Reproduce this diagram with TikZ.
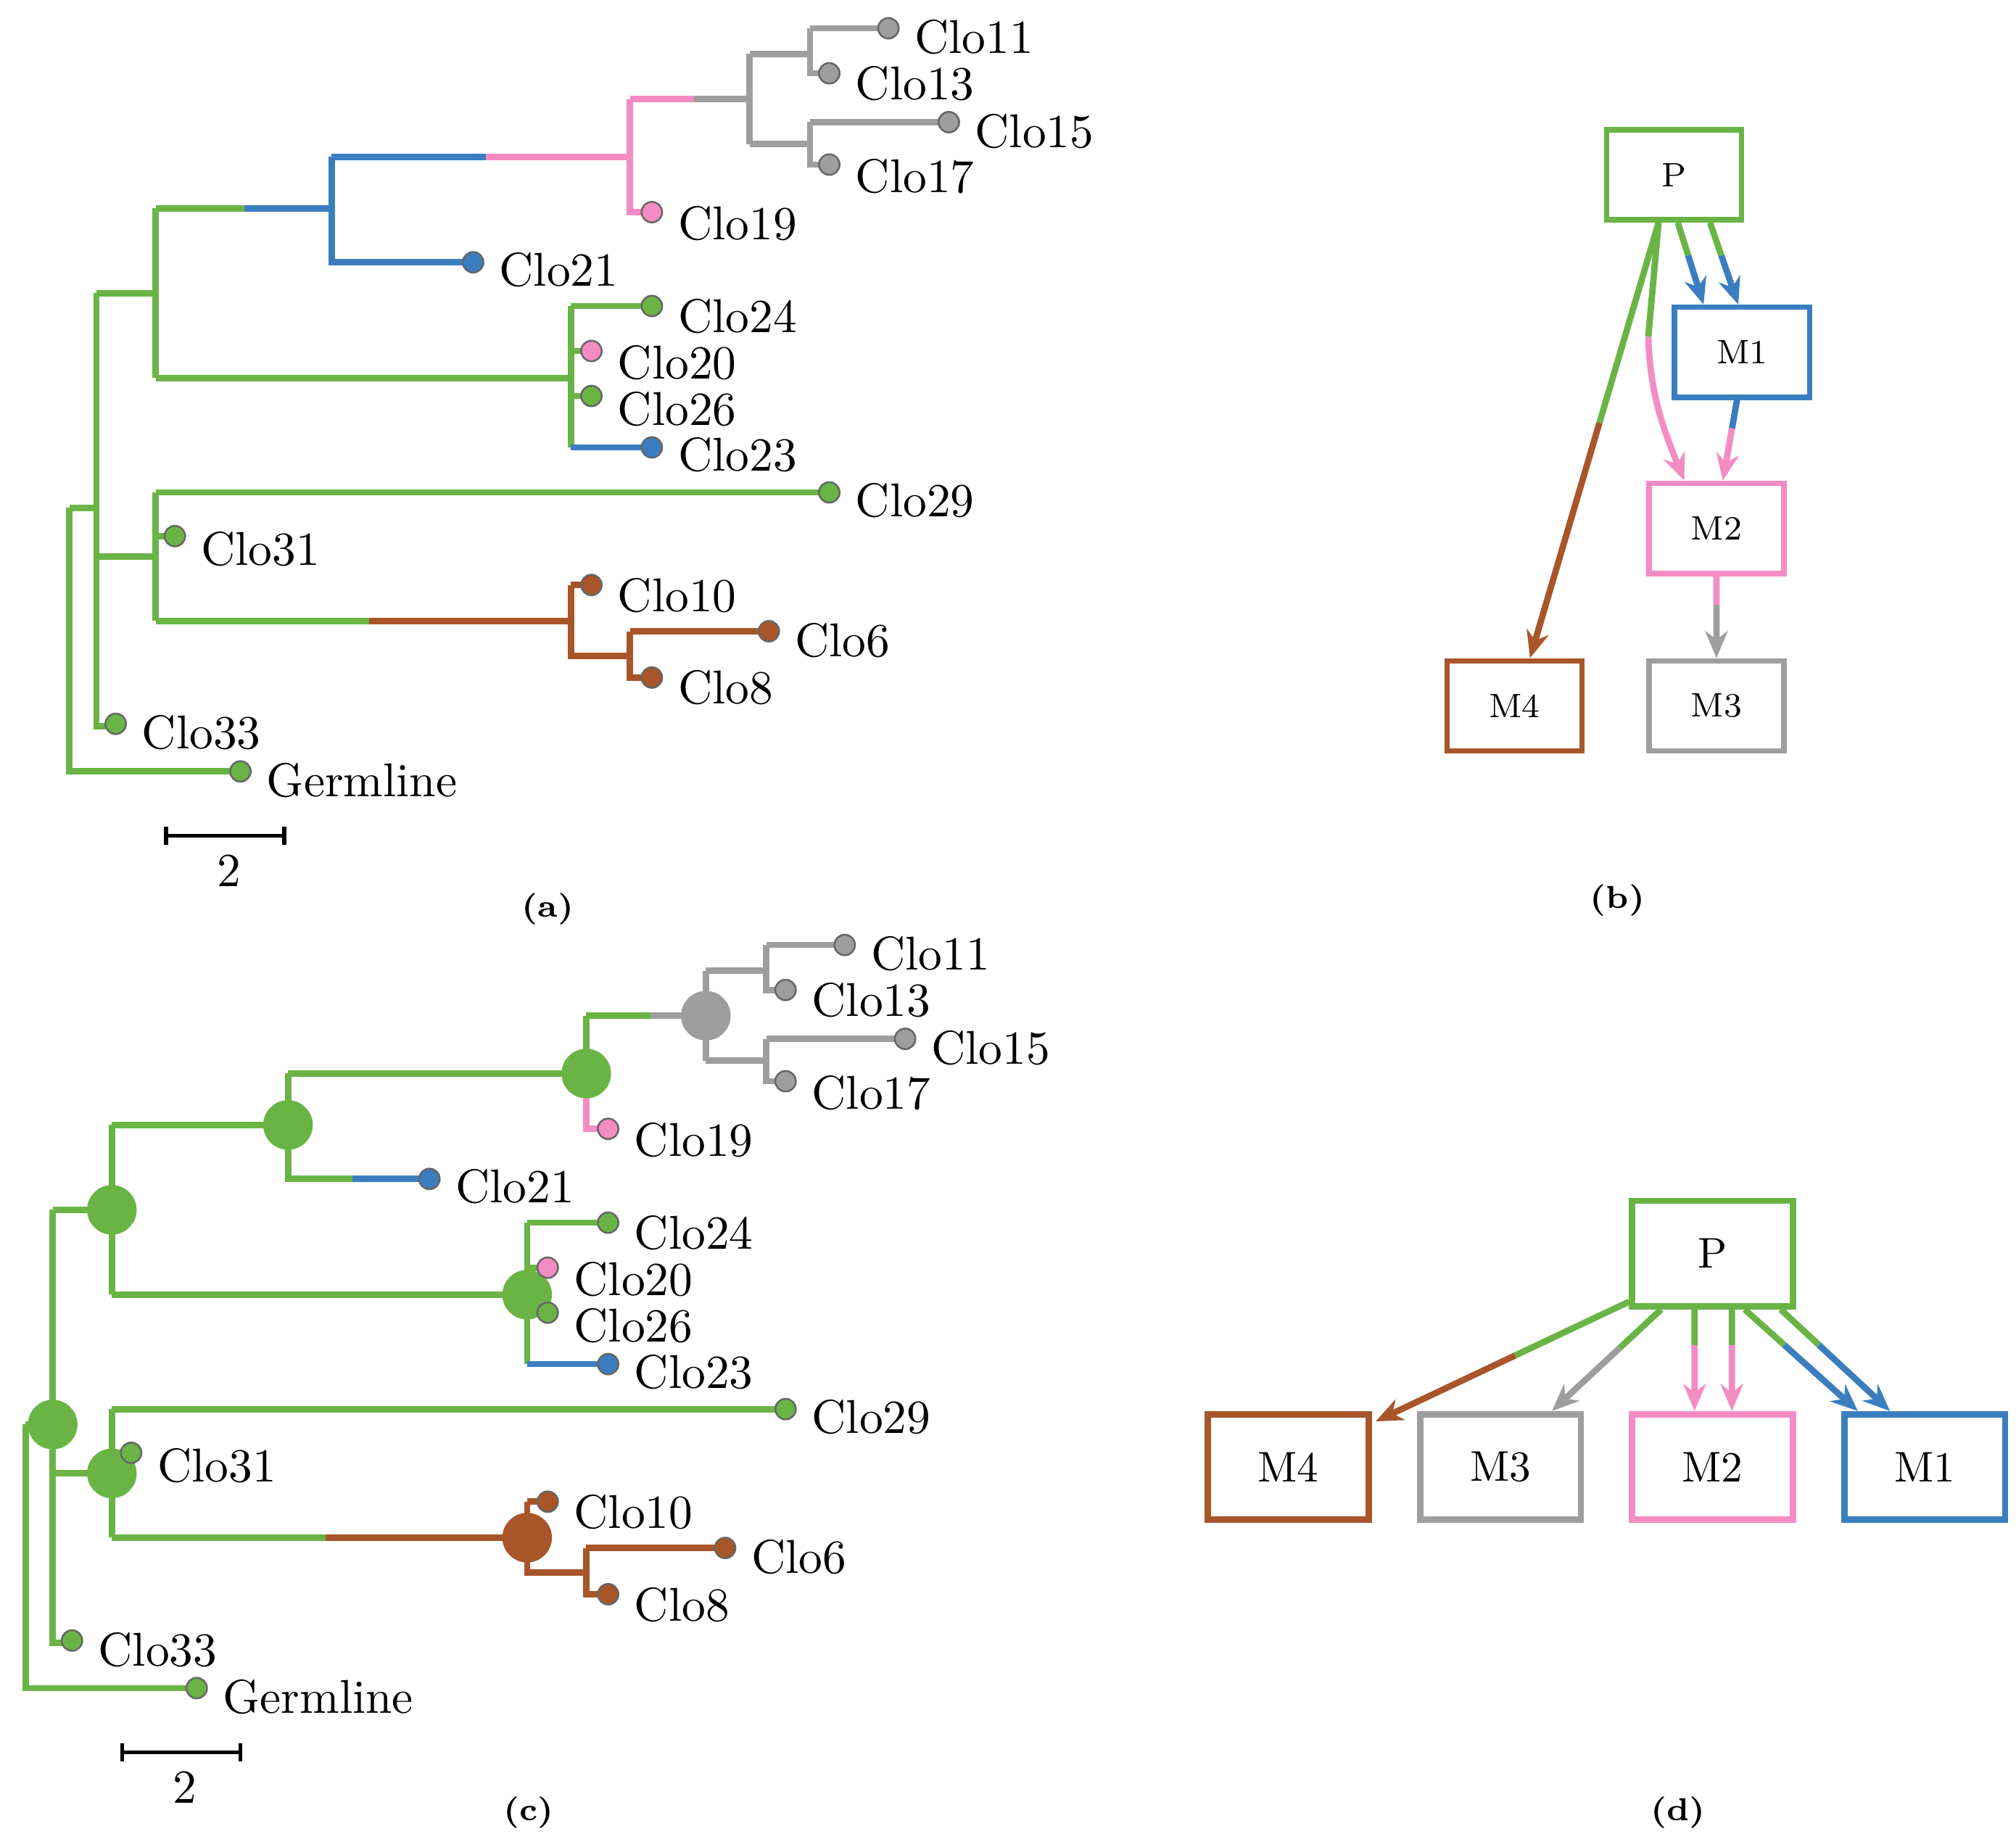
\documentclass[tikz,border=0pt]{standalone}
\usepackage{tikz}
\usetikzlibrary{calc,arrows.meta}
\definecolor{gc}{HTML}{6AB446}
\definecolor{bc}{HTML}{3A7EC0}
\definecolor{pc}{HTML}{F48CC4}
\definecolor{yc}{HTML}{9E9E9E}
\definecolor{rc}{HTML}{A8552A}
\newcommand\dt[3]{\fill[#3,draw=black!60,line width=0.4pt] (#1,#2) circle (8);}
\newcommand\myleaves{%
\dt{691}{22}{yc}\node[lab] at (709,29) {Clo11};
\dt{645}{57}{yc}\node[lab] at (663,65) {Clo13};
\dt{738}{95}{yc}\node[lab] at (756,102) {Clo15};
\dt{645}{128}{yc}\node[lab] at (663,137) {Clo17};
\dt{507}{165}{pc}\node[lab] at (525,174) {Clo19};
\dt{368}{204}{bc}\node[lab] at (386,210) {Clo21};
\dt{507}{238}{gc}\node[lab] at (525,246) {Clo24};
\dt{460}{273}{pc}\node[lab] at (478,282) {Clo20};
\dt{460}{308}{gc}\node[lab] at (478,318) {Clo26};
\dt{507}{348}{bc}\node[lab] at (525,354) {Clo23};
\dt{645}{383}{gc}\node[lab] at (663,389) {Clo29};
\dt{136}{417}{gc}\node[lab] at (154,427) {Clo31};
\dt{460}{455}{rc}\node[lab] at (478,463) {Clo10};
\dt{598}{491}{rc}\node[lab] at (616,498) {Clo6};
\dt{507}{527}{rc}\node[lab] at (525,535) {Clo8};
\dt{90}{563}{gc}\node[lab] at (108,570) {Clo33};
\dt{187}{600}{gc}\node[lab] at (205,607) {Germline};
\draw[line width=0.9pt] (129,650)--(221,650) (129,643)--(129,657) (221,643)--(221,657);
\node[font=\fontsize{10.5}{12}\selectfont] at (178,677) {2};}
\begin{document}
\begin{tikzpicture}[x=0.01cm,y=-0.01cm,line width=1.4pt,
  lab/.style={anchor=west,inner sep=0pt,font=\fontsize{10.5}{12}\selectfont},
  sublab/.style={font=\fontsize{7}{8}\selectfont\bfseries},
  box/.style={draw,line width=1.2pt,minimum width=1.05cm,minimum height=0.7cm,inner sep=0pt,font=\fontsize{7.5}{9}\selectfont},
  boxd/.style={draw,line width=1.4pt,minimum width=1.25cm,minimum height=0.82cm,inner sep=0pt,font=\fontsize{9.5}{11}\selectfont},
  arr/.style={-{Stealth[length=6pt,width=5pt]}},
  knot/.style={fill=white,line width=1.3pt}]
\useasboundingbox (0,0) rectangle (1568,1430);
% ---------- tree (a) ----------
\draw[gc] (54,395)--(54,600)--(187,600) (54,395)--(75,395) (75,228)--(75,565)--(90,565)
  (75,228)--(121,228) (121,162)--(121,294) (121,162)--(190,162)
  (121,294)--(444,294) (444,238)--(444,348) (444,238)--(507,238) (444,273)--(460,273) (444,308)--(460,308)
  (75,433)--(121,433) (121,383)--(121,483) (121,383)--(645,383) (121,417)--(136,417) (121,483)--(287,483);
\draw[bc] (190,162)--(258,162) (258,122)--(258,204)--(368,204) (258,122)--(378,122) (444,348)--(507,348);
\draw[pc] (378,122)--(490,122) (490,77)--(490,165)--(507,165) (490,77)--(540,77);
\draw[yc] (540,77)--(583,77) (583,42)--(583,112) (583,42)--(630,42) (630,22)--(630,57)--(645,57)
  (630,22)--(691,22) (583,112)--(630,112) (630,95)--(630,128)--(645,128) (630,95)--(738,95);
\draw[rc] (287,483)--(444,483) (444,455)--(444,510)--(490,510) (444,455)--(460,455)
  (490,491)--(490,527)--(507,527) (490,491)--(598,491);
\myleaves
\node[sublab] at (426,707) {(a)};
% ---------- tree (c) ----------
\begin{scope}[shift={(-34,713)}]
\draw[gc] (54,395)--(54,600)--(187,600) (54,395)--(75,395) (75,228)--(75,565)--(90,565)
  (75,228)--(121,228) (121,162)--(121,294) (121,162)--(258,162)
  (258,122)--(258,204)--(308,204) (258,122)--(490,122) (490,77)--(490,122) (490,77)--(540,77)
  (121,294)--(444,294) (444,238)--(444,348) (444,238)--(507,238) (444,273)--(460,273) (444,308)--(460,308)
  (75,433)--(121,433) (121,383)--(121,483) (121,383)--(645,383) (121,417)--(136,417) (121,483)--(287,483);
\draw[bc] (308,204)--(368,204) (444,348)--(507,348);
\draw[pc] (490,122)--(490,165)--(507,165);
\draw[yc] (540,77)--(583,77) (583,42)--(583,112) (583,42)--(630,42) (630,22)--(630,57)--(645,57)
  (630,22)--(691,22) (583,112)--(630,112) (630,95)--(630,128)--(645,128) (630,95)--(738,95);
\draw[rc] (287,483)--(444,483) (444,455)--(444,510)--(490,510) (444,455)--(460,455)
  (490,491)--(490,527)--(507,527) (490,491)--(598,491);
\draw[knot,yc] (583,77) circle (17);
\foreach \p in {(490,122),(258,162),(121,228),(444,294),(75,395),(121,433)}
  \draw[knot,gc] \p circle (17);
\draw[knot,rc] (444,483) circle (17);
\myleaves
\end{scope}
\node[sublab] at (411,1410) {(c)};
% ---------- graph (b) ----------
\node[box,gc] (P) at (1302,136) {\textcolor{black}{P}};
\node[box,bc] (M1) at (1355,274) {\textcolor{black}{M1}};
\node[box,pc] (M2) at (1335,411) {\textcolor{black}{M2}};
\node[box,rc] (M4) at (1178,549) {\textcolor{black}{M4}};
\node[box,yc] (M3) at (1335,549) {\textcolor{black}{M3}};
\foreach \a/\b in {3/-30,28/-3}{
  \coordinate (s) at ($(P.south)+(\a,0)$); \coordinate (t) at ($(M1.north)+(\b,0)$);
  \draw[gc] (s)--($(s)!0.4!(t)$) coordinate (m);
  \draw[bc,arr] (m)--(t);}
\coordinate (s) at ($(P.south)+(-12,0)$); \coordinate (m) at (1282,262);
\draw[gc] (s)--(m); \draw[pc,arr] (m) to[out=-88,in=112] ($(M2.north)+(-25,0)$);
\coordinate (s) at ($(M1.south)+(-4,0)$); \coordinate (t) at ($(M2.north)+(5,0)$);
\draw[bc] (s)--($(s)!0.35!(t)$) coordinate (m); \draw[pc,arr] (m)--(t);
\coordinate (s) at ($(P.south)+(-12,0)$); \coordinate (t) at ($(M4.north)+(12,0)$);
\draw[gc] (s)--($(s)!0.46!(t)$) coordinate (m); \draw[rc,arr] (m)--(t);
\draw[pc] (M2.south)--($(M2.south)!0.35!(M3.north)$) coordinate (m); \draw[yc,arr] (m)--(M3.north);
\node[sublab] at (1258,700) {(b)};
% ---------- graph (d) ----------
\node[boxd,gc] (Q) at (1332,975) {\textcolor{black}{P}};
\node[boxd,rc] (N4) at (1002,1141) {\textcolor{black}{M4}};
\node[boxd,yc] (N3) at (1167,1141) {\textcolor{black}{M3}};
\node[boxd,pc] (N2) at (1332,1141) {\textcolor{black}{M2}};
\node[boxd,bc] (N1) at (1497,1141) {\textcolor{black}{M1}};
\coordinate (s) at ($(Q.south west)+(0,-6)$); \coordinate (t) at ($(N4.north east)+(3,8)$);
\draw[gc] (s)--($(s)!0.45!(t)$) coordinate (m); \draw[rc,arr] (m)--(t);
\coordinate (s) at ($(Q.south)+(-40,0)$); \coordinate (t) at ($(N3.north)+(40,0)$);
\draw[gc] (s)--($(s)!0.38!(t)$) coordinate (m); \draw[yc,arr] (m)--(t);
\foreach \a in {-14,15}{
  \coordinate (s) at ($(Q.south)+(\a,0)$); \coordinate (t) at ($(N2.north)+(\a,0)$);
  \draw[gc] (s)--($(s)!0.35!(t)$) coordinate (m); \draw[pc,arr] (m)--(t);}
\foreach \a/\b in {25/-52,53/-27}{
  \coordinate (s) at ($(Q.south)+(\a,0)$); \coordinate (t) at ($(N1.north)+(\b,0)$);
  \draw[gc] (s)--($(s)!0.35!(t)$) coordinate (m); \draw[bc,arr] (m)--(t);}
\node[sublab] at (1305,1410) {(d)};
\end{tikzpicture}
\end{document}
